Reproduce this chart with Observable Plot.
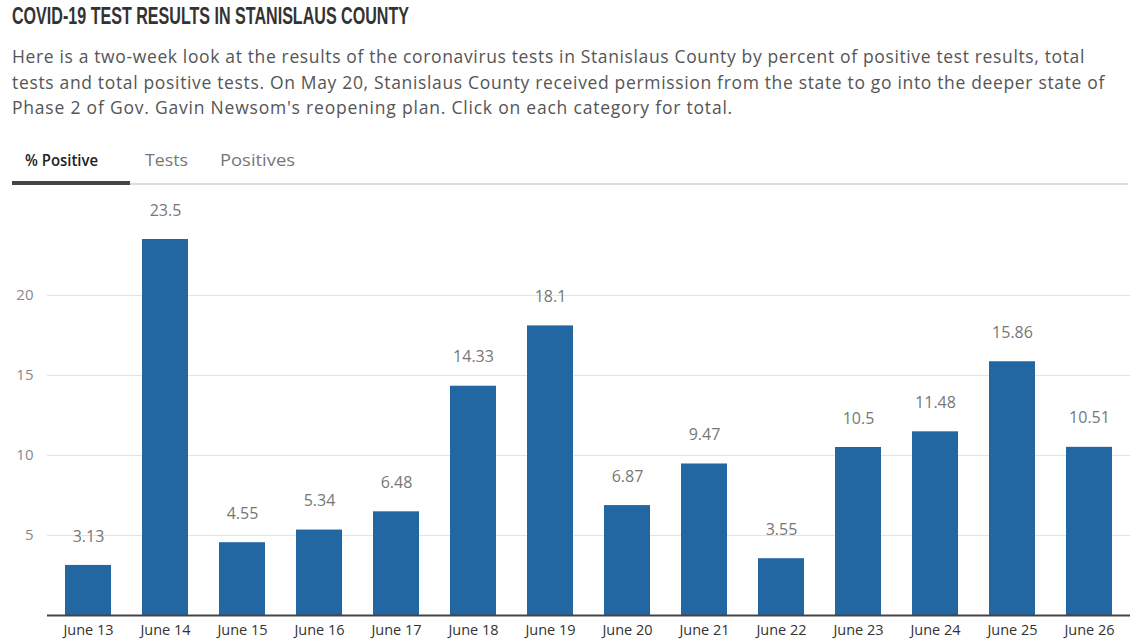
<!DOCTYPE html>
<html>
<head>
<meta charset="utf-8">
<script src="https://cdn.jsdelivr.net/npm/d3@7"></script>
<script src="https://cdn.jsdelivr.net/npm/@observablehq/plot@0.6"></script>
<style>
  html, body { margin: 0; padding: 0; background: #fff; overflow: hidden; }
  #wrap { position: relative; width: 1140px; height: 640px; }
  #title { position: absolute; left: 12px; top: 2px; font-family: "Liberation Sans", Arial, sans-serif; font-weight: bold; font-size: 24px; color: #333; white-space: nowrap; transform-origin: 0 0; }
  #sub { position: absolute; left: 12px; top: 44px; font-family: "Open Sans", Lato, sans-serif; font-size: 17.5px; line-height: 25.5px; color: #555; white-space: nowrap; }
  #sub div { white-space: nowrap; display: block; }
  #sub span { display: inline-block; }
  #tabs { position: absolute; left: 12px; top: 148px; width: 1116px; height: 38px; font-family: "Open Sans", Lato, sans-serif; font-size: 16.5px; }
  #tabs span { position: absolute; top: 0; color: #777; white-space: nowrap; transform-origin: 0 0; }
  #tabs .on { color: #222; font-weight: 600; }
  #tabline { position: absolute; left: 0; top: 35px; width: 1116px; height: 2px; background: #ddd; }
  #tabbar { position: absolute; left: 0; top: 33px; width: 118px; height: 4px; background: #444; }
  #chart { position: absolute; left: 0; top: 190px; }
</style>
</head>
<body>
<div id="wrap">
  <div id="title">COVID-19 TEST RESULTS IN STANISLAUS COUNTY</div>
  <div id="sub">
    <div><span data-w="1073">Here is a two-week look at the results of the coronavirus tests in Stanislaus County by percent of positive test results, total</span></div>
    <div><span data-w="1093">tests and total positive tests. On May 20, Stanislaus County received permission from the state to go into the deeper state of</span></div>
    <div><span data-w="721">Phase 2 of Gov. Gavin Newsom's reopening plan. Click on each category for total.</span></div>
  </div>
  <div id="tabs">
    <span class="on" data-w="73" style="left:13px">% Positive</span>
    <span data-w="43" style="left:133px">Tests</span>
    <span data-w="75" style="left:208px">Positives</span>
    <div id="tabline"></div>
    <div id="tabbar"></div>
  </div>
  <div id="chart"></div>
</div>
<script>
const days = ["June 13","June 14","June 15","June 16","June 17","June 18","June 19","June 20","June 21","June 22","June 23","June 24","June 25","June 26"];
const pctPositive = [3.13, 23.5, 4.55, 5.34, 6.48, 14.33, 18.1, 6.87, 9.47, 3.55, 10.5, 11.48, 15.86, 10.51];
const yTicks = [5, 10, 15, 20];

const data = days.map((d, i) => ({day: d, value: pctPositive[i]}));

// fit the condensed title to the reference width
const title = document.getElementById("title");
const tw = title.getBoundingClientRect().width;
title.style.transform = `scaleX(${397 / tw})`;

// fit subtitle lines with letter spacing
document.querySelectorAll("#sub span").forEach(s => {
  const target = +s.dataset.w;
  const w = s.getBoundingClientRect().width;
  const n = s.textContent.length;
  s.style.letterSpacing = ((target - w) / n) + "px";
});

// fit tab labels
document.querySelectorAll("#tabs span").forEach(s => {
  const target = +s.dataset.w;
  const w = s.getBoundingClientRect().width;
  s.style.transform = `scaleX(${target / w})`;
});

const chart = Plot.plot({
  width: 1140,
  height: 450,
  marginLeft: 47,
  marginRight: 10,
  marginTop: 25,
  marginBottom: 25,
  style: { fontFamily: "'Open Sans', Lato, sans-serif", background: "transparent" },
  x: { domain: days, paddingInner: 0.4, paddingOuter: 0.2, label: null },
  y: { domain: [0, 25], label: null },
  marks: [
    Plot.gridY(yTicks, { stroke: "#e4e4e4", strokeOpacity: 1, strokeWidth: 1 }),
    Plot.axisY(yTicks, { tickSize: 0, tickPadding: 14, fontSize: 15, fill: "#888", label: null }),
    Plot.axisX({ tickSize: 0, tickPadding: 9, fontSize: 14.5, fill: "#333", label: null }),
    Plot.barY(data, { x: "day", y: "value", fill: "#2367a2" }),
    Plot.ruleY([0], { stroke: "#444", strokeWidth: 2 }),
    Plot.text(data, { x: "day", y: "value", text: d => String(d.value), dy: -29, fontSize: 16, fill: "#777" })
  ]
});
document.getElementById("chart").appendChild(chart);
</script>
</body>
</html>
